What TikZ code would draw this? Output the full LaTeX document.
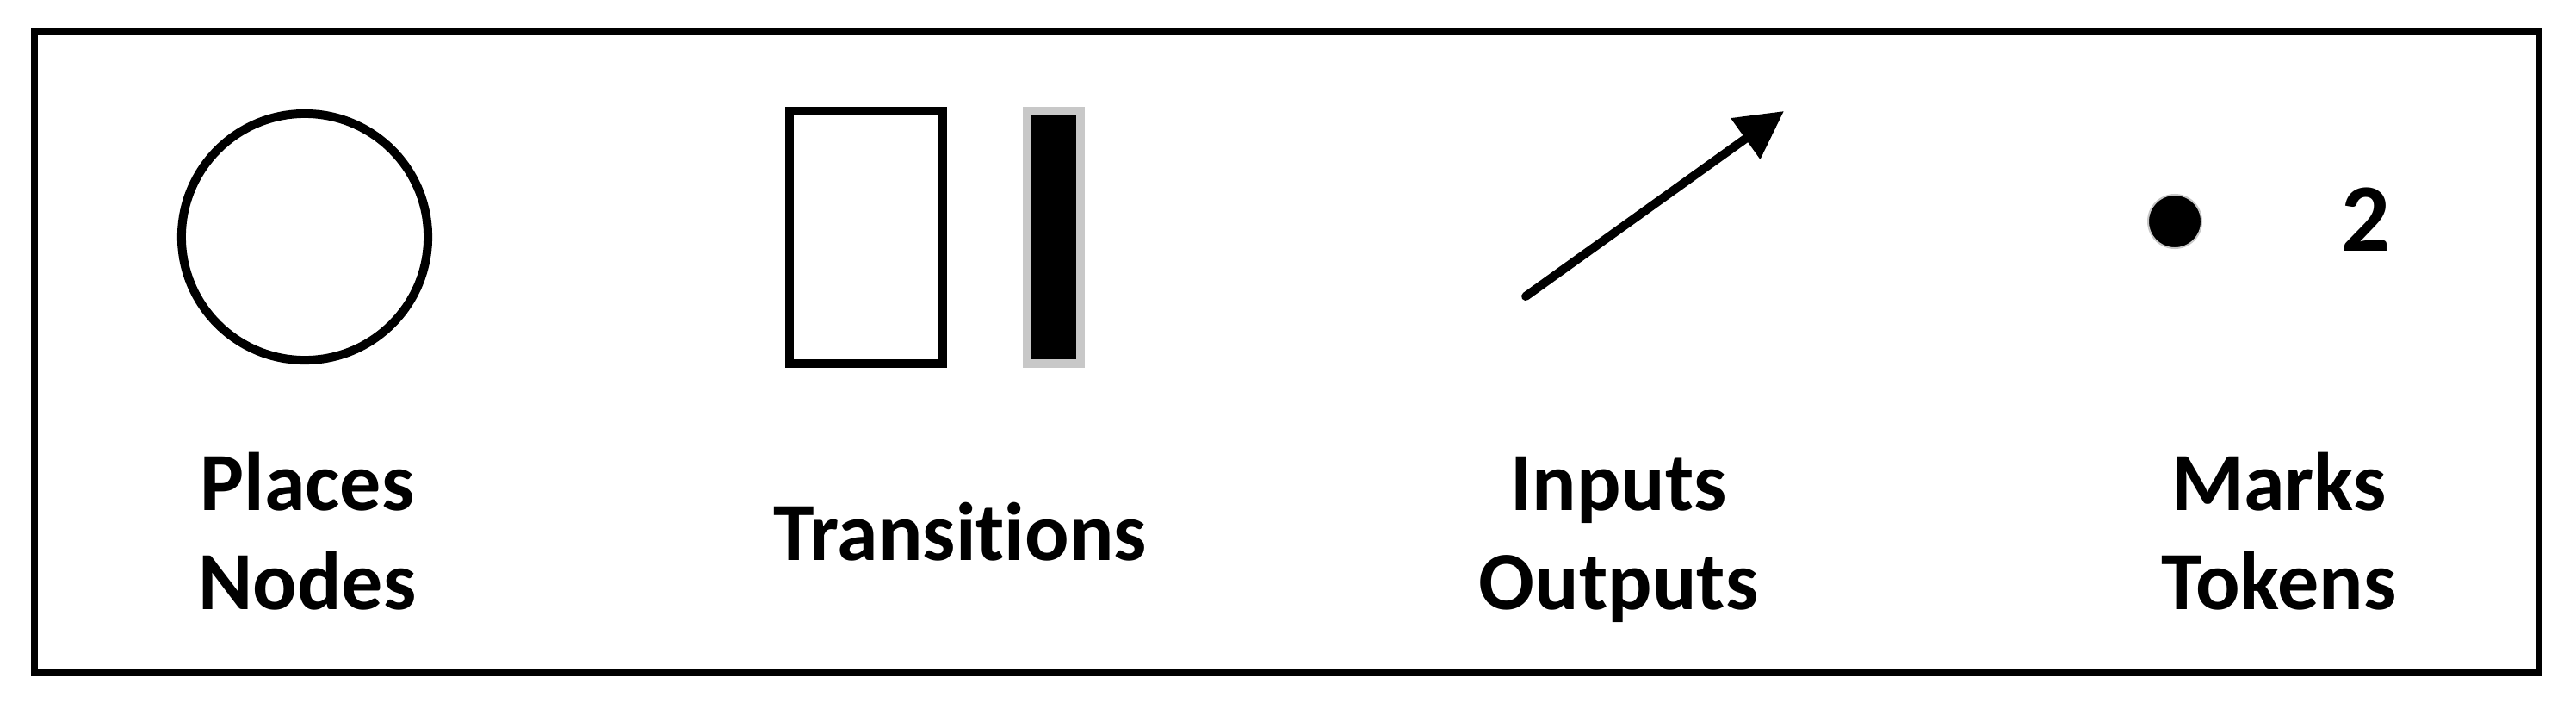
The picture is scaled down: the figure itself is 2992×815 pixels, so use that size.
\documentclass[tikz,border=0pt]{standalone}
\usepackage{fontspec}
\setmainfont{Carlito}[Ligatures=NoCommon]
\usetikzlibrary{arrows.meta}
\definecolor{bordergray}{HTML}{C8C8C8}
\tikzset{
  lbl/.style={font=\fontsize{27.3pt}{32.7pt}\selectfont\bfseries, align=center, inner sep=0pt, anchor=base},
  shapeline/.style={line width=0.1cm, draw=black},
}
\begin{document}
\begin{tikzpicture}[x=0.01cm, y=-0.01cm]
\useasboundingbox (0,0) rectangle (2992,815);
% frame
\draw[line width=0.08cm] (40,37) rectangle (2948.5,780.5);
% place
\node[circle, shapeline, minimum size=2.86cm, inner sep=0pt] (place) at (354,275) {};
% transitions
\node[rectangle, shapeline, minimum width=1.78cm, minimum height=2.925cm, inner sep=0pt] (trans) at (1006,275.25) {};
\node[rectangle, line width=0.1cm, draw=bordergray, fill=black, minimum width=0.62cm, minimum height=2.925cm, inner sep=0pt] (tbar) at (1224,275.25) {};
% arc
\coordinate (arcstart) at (1772,344);
\coordinate (arcend) at (2072,129);
\draw[line width=0.1cm, line cap=round, -{Triangle[length=0.55cm 0, width=0.56cm 0]}] (arcstart) -- (arcend);
% token
\node[circle, fill=black, draw=bordergray, line width=0.02cm, minimum size=0.62cm, inner sep=0pt] (token) at (2526,257) {};
\node[font=\fontsize{31.9pt}{36pt}\selectfont\bfseries, inner sep=0pt] (two) at (2748,255) {2};
% labels
\node[lbl] (lplace) at (357,707) {Places\\Nodes};
\node[lbl] (ltrans) at (1115,650) {Transitions};
\node[lbl] (larc) at (1880,707) {Inputs\\Outputs};
\node[lbl] (lmark) at (2647,707) {Marks\\Tokens};
\end{tikzpicture}
\end{document}
